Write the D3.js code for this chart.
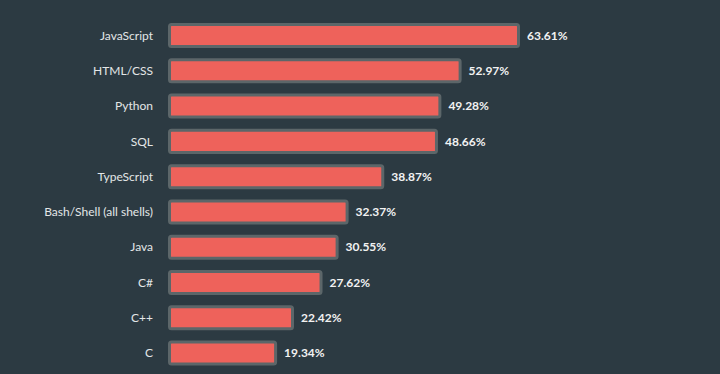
<!DOCTYPE html>
<html><head><meta charset="utf-8">
<script src="https://cdn.jsdelivr.net/npm/d3@7"></script>
<style>html,body{margin:0;padding:0;background:#2c3a42;}svg{display:block;}</style>
</head><body>
<svg id="chart" width="720" height="374"></svg>
<script>
const languages = ["JavaScript","HTML/CSS","Python","SQL","TypeScript","Bash/Shell (all shells)","Java","C#","C++","C"];
const shares = [63.61,52.97,49.28,48.66,38.87,32.37,30.55,27.62,22.42,19.34];

const svg = d3.select("#chart");
const x0 = 169.5;
const x = d3.scaleLinear().domain([0, 63.61]).range([x0, 518.5]);
const y = d3.scaleBand().domain(languages).range([17.9, 370.7]).paddingInner(0.29).paddingOuter(0.145);

const data = languages.map((l,i)=>({l, v: shares[i]}));

svg.selectAll("rect.bar").data(data).join("rect")
  .attr("class","bar")
  .attr("x", x0)
  .attr("y", d=>y(d.l)+1.5)
  .attr("width", d=>x(d.v)-x0)
  .attr("height", y.bandwidth()-3)
  .attr("rx", 2)
  .attr("fill", "#ee625b")
  .attr("stroke", "#5c6669")
  .attr("stroke-width", 3);

svg.selectAll("text.cat").data(data).join("text")
  .attr("class","cat")
  .attr("x", 153)
  .attr("y", d=>y(d.l)+y.bandwidth()/2)
  .attr("dy","0.35em")
  .attr("text-anchor","end")
  .attr("font-family","Lato, 'Open Sans', sans-serif")
  .attr("font-size", 12)
  .attr("fill","#e3e6e7")
  .text(d=>d.l);

svg.selectAll("text.val").data(data).join("text")
  .attr("class","val")
  .attr("x", d=>x(d.v)+8.5)
  .attr("y", d=>y(d.l)+y.bandwidth()/2)
  .attr("dy","0.35em")
  .attr("font-family","Lato, 'Open Sans', sans-serif")
  .attr("font-weight","bold")
  .attr("font-size", 12)
  .attr("fill","#f2f2f2")
  .text(d=>d.v.toFixed(2)+"%");
</script>
</body></html>
